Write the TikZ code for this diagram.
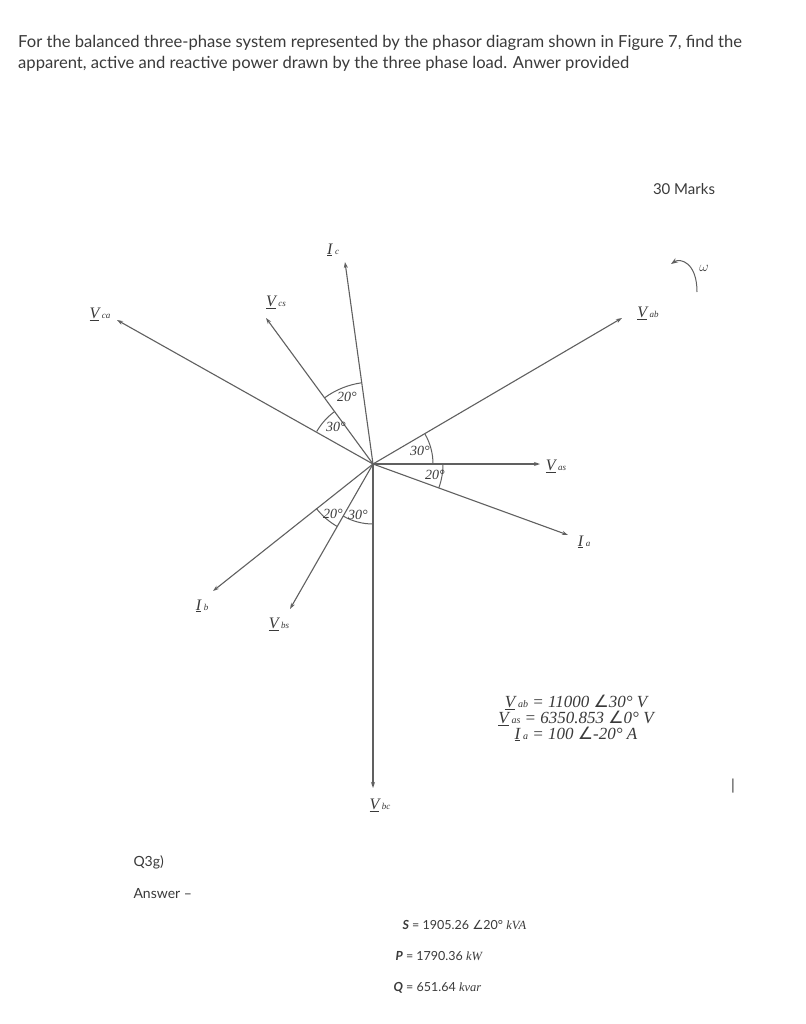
\documentclass[tikz,border=0pt]{standalone}
\usepackage{fontspec}
\setmainfont{Lato}
\newfontfamily\tms{Liberation Serif}
\newfontfamily\dju{DejaVu Sans}
\usetikzlibrary{arrows.meta}
\definecolor{txt}{HTML}{3A3A3A}
\definecolor{ln}{HTML}{606060}
\newcommand{\ang}{{\dju\char"2220}}
\newcommand{\fs}[1]{\fontsize{#1}{#1}\selectfont}
\newcommand{\ph}[2]{{\tms\itshape\underline{#1}\,{\fs{9}#2}}}
\begin{document}
\begin{tikzpicture}[x=1pt,y=-1pt,
  vec/.style={draw=ln,line width=1.1pt,-{Stealth[length=6pt,width=4pt]}},
  arcl/.style={draw=ln,line width=1pt},
  lab/.style={font=\tms\itshape\fs{16},text=txt,inner sep=1pt},
  deg/.style={font=\tms\itshape\fs{14},text=txt,inner sep=0.5pt},
  body/.style={font=\fs{16.6},text=txt,anchor=west,inner sep=0}]
\useasboundingbox (0,0) rectangle (805,1024);
\fill[white] (0,0) rectangle (805,1024);
\node[body] (t1) at (18,43) {For the balanced three-phase system represented by the phasor diagram shown in Figure 7, find the};
\node[body] (t2) at (18,64) {apparent, active and reactive power drawn by the three phase load. Anwer provided};
\node[font=\fs{15},text=txt] (mk) at (684,189) {30 Marks};
\coordinate (O) at (373,464);
\coordinate (Vab) at (622,318);
\coordinate (Van) at (540,464);
\coordinate (Ia) at (568,535);
\coordinate (Vca) at (117,320);
\coordinate (Vcn) at (266,318);
\coordinate (Ic) at (345,262);
\coordinate (Ib) at (213,591);
\coordinate (Vbn) at (290,609);
\coordinate (Vbc) at (373,788);
\foreach \p in {Vab,Van,Ia,Vca,Vcn,Ic,Ib,Vbn,Vbc} \draw[vec] (O) -- (\p);
\draw[arcl] ([shift={(-30:60)}]O) arc[start angle=-30,end angle=0,radius=60];
\draw[arcl] ([shift={(0:70)}]O) arc[start angle=0,end angle=20,radius=70];
\draw[arcl] ([shift={(-150:65)}]O) arc[start angle=-150,end angle=-126,radius=65];
\draw[arcl] ([shift={(-126:82)}]O) arc[start angle=-126,end angle=-98,radius=82];
\draw[arcl] ([shift={(90:60)}]O) arc[start angle=90,end angle=120,radius=60];
\draw[arcl] ([shift={(120:72)}]O) arc[start angle=120,end angle=142,radius=72];
\node[deg] (d1) at (420,451) {30°};
\node[deg] (d2) at (435,475) {20°};
\node[deg] (d3) at (336,427) {30°};
\node[deg] (d4) at (347,397) {20°};
\node[deg] (d5) at (358,515) {30°};
\node[deg] (d6) at (333,514) {20°};
\node[lab] (lca) at (100,314) {\ph{V}{ca}};
\node[lab] (lcn) at (276,302) {\ph{V}{cs}};
\node[lab] (lic) at (333,250) {\ph{I}{c}};
\node[lab] (lab) at (648,313) {\ph{V}{ab}};
\node[lab] (lan) at (556,466) {\ph{V}{as}};
\node[lab] (lia) at (584,542) {\ph{I}{a}};
\node[lab] (lib) at (202,606) {\ph{I}{b}};
\node[lab] (lbn) at (279,624) {\ph{V}{bs}};
\node[lab] (lbc) at (380,805) {\ph{V}{bc}};
\coordinate (w1) at (697,292);
\coordinate (w2) at (671,264);
\draw[ln,line width=1pt,-{Stealth[length=7pt,width=5pt]}] (w1) .. controls (697,262) and (680,258) .. (w2);
\node[font=\tms\itshape\fs{15},text=txt] (om) at (704,268) {$\omega$};
\node[font=\tms\itshape\fs{17},text=txt,align=center] (data) at (576,718)
 {\underline{V}\,{\fs{10}ab} = 11000 \ang30° V\\[-1pt]
  \underline{V}\,{\fs{10}as} = 6350.853 \ang0° V\\[-1pt]
  \underline{I}\,{\fs{10}a} = 100 \ang-20° A};
\node[font=\fs{15},text=txt] (cur) at (733,786) {|};
\node[font=\fs{14},text=txt,anchor=west] (q) at (130,862) {Q3g)};
\node[font=\fs{14},text=txt,anchor=west] (ans) at (130,894) {Answer –};
\node[font=\fs{12.5},text=txt,anchor=west] (s) at (399,925) {\textbf{\textit{S}} = 1905.26 \ang20° \textit{\tms kVA}};
\node[font=\fs{12.5},text=txt,anchor=west] (p) at (392,956) {\textbf{\textit{P}} = 1790.36 \textit{\tms kW}};
\node[font=\fs{12.5},text=txt,anchor=west] (qq) at (390,988) {\textbf{\textit{Q}} = 651.64 \textit{\tms kvar}};
\end{tikzpicture}
\end{document}
